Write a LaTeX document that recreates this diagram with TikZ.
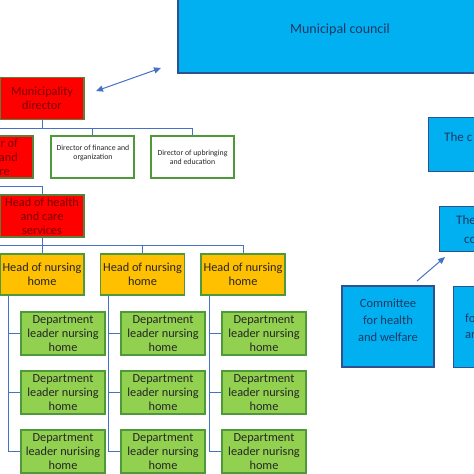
\documentclass[tikz,border=0pt]{standalone}
\usepackage{fontspec}
\setmainfont{Carlito}
\usetikzlibrary{arrows.meta}
\definecolor{cblue}{HTML}{00B0F0}
\definecolor{cblueb}{HTML}{2F528F}
\definecolor{cbluet}{HTML}{1F3864}
\definecolor{cred}{HTML}{FF0000}
\definecolor{credb}{HTML}{5E7F3A}
\definecolor{credt}{HTML}{7A0000}
\definecolor{corange}{HTML}{FFC000}
\definecolor{cgreen}{HTML}{92D050}
\definecolor{cgreenb}{HTML}{4E9A3A}
\definecolor{cline}{HTML}{4472C4}
\begin{document}
\begin{tikzpicture}[x=1pt,y=-1pt,
  >={Triangle[length=7pt,width=6pt]},
  box/.style={draw, line width=1.1pt, minimum width=84pt, minimum height=42pt, inner sep=0pt, align=center, font=\fontsize{12.3}{14}\selectfont},
  redbox/.style={box, fill=cred, draw=credb, text=credt},
  orbox/.style={box, fill=corange, draw=cgreenb, text=black!85, minimum height=41pt},
  grbox/.style={box, fill=cgreen, draw=cgreenb, text=black!85, minimum height=43pt},
  whbox/.style={box, fill=white, draw=cgreenb, minimum width=83pt},
  smalltext/.style={font=\fontsize{7.8}{9}\selectfont, align=center, inner sep=0pt, text=black!85},
  bluebox/.style={draw=cblueb, fill=cblue, line width=1.1pt, inner sep=0pt, text=cbluet},
  bluetext/.style={inner sep=0pt, text=cbluet, font=\fontsize{13}{16}\selectfont},
  conn/.style={draw=cline, line width=1pt},
]
\useasboundingbox (0,0) rectangle (474,474);
\clip (0,0) rectangle (474,474);

% council side
\node[bluebox, minimum width=324pt, minimum height=86pt, font=\fontsize{14}{17}\selectfont] (mc) at (340,30) {Municipal council};
\node[bluebox, minimum width=100pt, minimum height=54pt, anchor=north west] (tc) at (428,117) {};
\node[bluetext, anchor=west] (tct) at (444,137) {The c};
\node[bluebox, minimum width=100pt, minimum height=45pt, anchor=north west] (tco) at (439,206) {};
\node[bluetext, anchor=west] (tcot1) at (456,220) {The};
\node[bluetext, anchor=west] (tcot2) at (464,240) {co};
\node[bluebox, minimum width=92pt, minimum height=81pt] (cw) at (388,326.5) {};
\node[bluetext, align=center, font=\fontsize{12.5}{17}\selectfont] (cwt) at (388,320) {Committee\\for health\\and welfare};
\node[bluebox, minimum width=100pt, minimum height=81pt, anchor=north west] (cu) at (453,286) {};
\node[bluetext, anchor=west, font=\fontsize{12.5}{17}\selectfont] (cut1) at (465,318) {fo};
\node[bluetext, anchor=west, font=\fontsize{12.5}{17}\selectfont] (cut2) at (465,336) {an};

% administration
\node[redbox] (dir) at (42,98.5) {Municipality\\director};
\node[redbox] (dhc) at (-9,157) {Director of\\health and\\welfare};
\node[whbox] (dfo) at (92.5,157) {};
\node[smalltext] (dfot) at (93,152.5) {Director of finance and\\organization};
\node[whbox, font=\fontsize{7.8}{9}\selectfont, text=black!85] (dup) at (192.5,157) {Director of upbringing\\and education};
\node[redbox] (hhc) at (42,216) {Head of health\\and care\\services};

\node[orbox] (hn1) at (42,274.5) {Head of nursing\\home};
\node[orbox] (hn2) at (142.5,274.5) {Head of nursing\\home};
\node[orbox] (hn3) at (243,274.5) {Head of nursing\\home};

\node[grbox] (d11) at (63,333.5) {Department\\leader nursing\\home};
\node[grbox] (d12) at (63,392.5) {Department\\leader nursing\\home};
\node[grbox] (d13) at (63,451.5) {Department\\leader nurising\\home};
\node[grbox] (d21) at (163,333.5) {Department\\leader nursing\\home};
\node[grbox] (d22) at (163,392.5) {Department\\leader nursing\\home};
\node[grbox] (d23) at (163,451.5) {Department\\leader nursing\\home};
\node[grbox] (d31) at (264,333.5) {Department\\leader nursing\\home};
\node[grbox] (d32) at (264,392.5) {Department\\leader nursing\\home};
\node[grbox] (d33) at (264,451.5) {Department\\leader nurisng\\home};

% arrows
\coordinate (a1) at (96,91);
\coordinate (a2) at (161,68);
\draw[conn, <->] (a1) -- (a2);
\coordinate (a3) at (417,281);
\coordinate (a4) at (445,257);
\draw[conn, ->] (a3) -- (a4);

% connectors
\draw[conn] (dir.south) -- ++(0,8.5) coordinate (b1);
\draw[conn] (dhc.north) |- (b1) -| (dup.north);
\draw[conn] (dfo.north) -- (dfo.north |- b1);
\draw[conn] (dhc.south) -- ++(0,8) -| (hhc.north);
\draw[conn] (hhc.south) -- (hn1.north);
\path (hhc.south) ++(0,8) coordinate (b3);
\draw[conn] ([xshift=-60pt]b3) -| (hn3.north);
\draw[conn] (hn2.north) -- (hn2.north |- b3);

\path (hn1.south west) ++(9,0) coordinate (v1);
\path (hn2.south west) ++(8.5,0) coordinate (v2);
\path (hn3.south west) ++(9,0) coordinate (v3);
\draw[conn] (v1) |- (d13.west);
\draw[conn] (v1) |- (d11.west);
\draw[conn] (v1) |- (d12.west);
\draw[conn] (v2) |- (d23.west);
\draw[conn] (v2) |- (d21.west);
\draw[conn] (v2) |- (d22.west);
\draw[conn] (v3) |- (d33.west);
\draw[conn] (v3) |- (d31.west);
\draw[conn] (v3) |- (d32.west);
\end{tikzpicture}
\end{document}
